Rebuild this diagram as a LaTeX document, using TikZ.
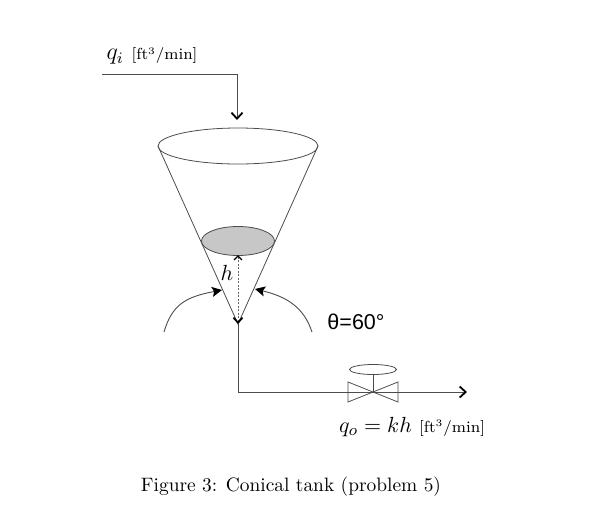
\documentclass[tikz,border=0pt]{standalone}
\usepackage{fontspec}
\newfontfamily\labelfont{Liberation Sans}
\usetikzlibrary{arrows.meta,positioning}
\tikzset{
  pipe/.style={draw=black!70, line width=0.9pt},
  flow/.style={pipe, -{Straight Barb[length=6pt,width=11pt,line width=1.8pt,black]}},
  angle mark/.style={draw=black!70, line width=0.9pt, -{Stealth[length=10pt,width=10pt,inset=2pt,black]}},
  tank/.style={draw=black!70, line width=0.8pt},
  big text/.style={scale=2, inner sep=0pt},
}
\newcommand{\unitft}{{\fontsize{8}{10}\selectfont[ft$^{\scriptscriptstyle 3}$/min]}}

\begin{document}
\begin{tikzpicture}[x=1pt, y=-1pt]
  \useasboundingbox (0,0) rectangle (608,531);
  % inlet
  \coordinate (in) at (102,74);
  \coordinate (incorner) at (237,74);
  \coordinate (intip) at (237,120);
  \draw[pipe] (in) -- (incorner);
  \draw[flow] (incorner) -- (intip);
  \node[big text] (qi) at (152,56) {\fontsize{12}{14}\selectfont $q_i$ \unitft};
  % cone
  \coordinate (rimleft) at (158,146);
  \coordinate (rimright) at (318,146);
  \coordinate (apex) at (238,324);
  \coordinate (rimcentre) at (238,146);
  \coordinate (levelcentre) at (238,241);
  \draw[tank] (rimcentre) ellipse [x radius=80, y radius=18];
  \draw[tank] (rimleft) -- (apex) -- (rimright);
  \draw[tank, fill=black!22] (levelcentre) ellipse [x radius=36.5, y radius=14.5];
  % height
  \coordinate (leveltip) at (238,255);
  \draw[draw=black!60, dash pattern=on 2pt off 1.5pt, line width=0.8pt, {Straight Barb[length=4pt,width=8pt,line width=1.4pt,black]}-{Straight Barb[length=5pt,width=9pt,line width=1.8pt,black]}] (leveltip) -- (apex);
  \node[big text] (height) at (227,273) {\fontsize{11}{13}\selectfont $h$};
  % angle
  \coordinate (angleleft) at (164,332);
  \coordinate (angleright) at (312,332);
  \coordinate (tipleft) at (222,290);
  \coordinate (tipright) at (255,289);
  \draw[angle mark] (angleleft) .. controls (172,305) and (185,297) .. (tipleft);
  \draw[angle mark] (angleright) .. controls (304,308) and (288,297) .. (tipright);
  \node (theta) at (356,322) {\labelfont\fontsize{21.5}{25}\selectfont θ=60°};
  % outlet
  \coordinate (outcorner) at (238,392);
  \coordinate (valve) at (373,392);
  \coordinate (outtip) at (467,392);
  \coordinate (stem) at (373,375);
  \coordinate (handle) at (373,369.5);
  \draw[pipe] (apex) -- (outcorner) -- (valve);
  \draw[flow] (valve) -- (outtip);
  \draw[tank] (valve) -- (348,382) -- (348,402) -- cycle;
  \draw[tank] (valve) -- (398,382) -- (398,402) -- cycle;
  \draw[tank] (valve) -- (stem);
  \draw[tank] (handle) ellipse [x radius=23.5, y radius=5];
  \node[big text] (qo) at (412,427) {\fontsize{11}{14}\selectfont $q_o = kh$ \unitft};
  % caption
  \node[big text, scale=0.97] (caption) at (291,487) {\fontsize{10}{12}\selectfont Figure 3: Conical tank (problem 5)};
\end{tikzpicture}
\end{document}
